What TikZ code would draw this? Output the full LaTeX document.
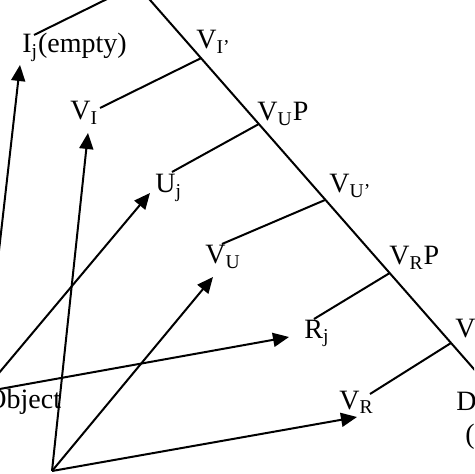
\documentclass[tikz,border=0pt]{standalone}
\usepackage{fontspec}
\setmainfont{Liberation Serif}
\usetikzlibrary{arrows.meta,calc}

\begin{document}
\begin{tikzpicture}[x=0.5pt, y=-0.5pt,
    lbl/.style={inner sep=0pt, anchor=base west, font=\fontsize{14}{16}\selectfont},
    link/.style={line width=1pt},
    pointer/.style={line width=1pt, -{Triangle[length=8pt, width=7pt]}},
  ]
    \useasboundingbox (0,0) rectangle (474,474);
    \clip (0,0) rectangle (474,474);
    % dividing line
    \coordinate (dtop) at (150,0);
    \coordinate (dbot) at (473,368);
    \draw[link] ($(dtop)!-0.1!(dbot)$) -- ($(dtop)!1.1!(dbot)$);
    % labels
    \node[lbl] (ij) at (22,53) {I\textsubscript{j}(empty)};
    \node[lbl] (vip) at (196,49) {V\textsubscript{I'}};
    \node[lbl] (vi) at (70,120) {V\textsubscript{I}};
    \node[lbl] (vup) at (257,121) {V\textsubscript{U}P};
    \node[lbl] (uj) at (155,193) {U\textsubscript{j}};
    \node[lbl] (vupr) at (329,193) {V\textsubscript{U'}};
    \node[lbl] (vu) at (205,264) {V\textsubscript{U}};
    \node[lbl] (vrp) at (389,265) {V\textsubscript{R}P};
    \node[lbl] (rj) at (304,338) {R\textsubscript{j}};
    \node[lbl] (vrpr) at (455,337) {V};
    \node[lbl] (vr) at (339,409) {V\textsubscript{R}};
    \node[lbl] (dom) at (456,410) {D};
    \node[lbl] (domb) at (465,443) {(};
    \node[lbl] (obj) at (-14,408) {Object};
    % junctions on the dividing line
    \coordinate (j0) at ($(dtop)!-0.042!(dbot)$);
    \coordinate (j1) at ($(dtop)!0.158!(dbot)$);
    \coordinate (j2) at ($(dtop)!0.337!(dbot)$);
    \coordinate (j3) at ($(dtop)!0.543!(dbot)$);
    \coordinate (j4) at ($(dtop)!0.742!(dbot)$);
    \coordinate (j5) at ($(dtop)!0.932!(dbot)$);
    % branch ends
    \coordinate (e0) at (34,35);
    \coordinate (e1) at (100,108);
    \coordinate (e2) at (172,172);
    \coordinate (e3) at (222,244);
    \coordinate (e4) at (314,319);
    \coordinate (e5) at (370,394);
    \draw[link] (j0) -- (e0);
    \draw[link] (j1) -- (e1);
    \draw[link] (j2) -- (e2);
    \draw[link] (j3) -- (e3);
    \draw[link] (j4) -- (e4);
    \draw[link] (j5) -- (e5);
    % arrow sources and tips
    \coordinate (osrc) at (-17,392);
    \coordinate (bsrc) at (52,471);
    \coordinate (tij) at (20,65);
    \coordinate (tuj) at (150,193);
    \coordinate (trj) at (289,337);
    \coordinate (tvi) at (88,133);
    \coordinate (tvu) at (213,277);
    \coordinate (tvr) at (357,417);
    \draw[pointer] (osrc) -- (tij);
    \draw[pointer] (osrc) -- (tuj);
    \draw[pointer] (osrc) -- (trj);
    \draw[pointer] (bsrc) -- (tvi);
    \draw[pointer] (bsrc) -- (tvu);
    \draw[pointer] (bsrc) -- (tvr);
  \end{tikzpicture}
\end{document}
